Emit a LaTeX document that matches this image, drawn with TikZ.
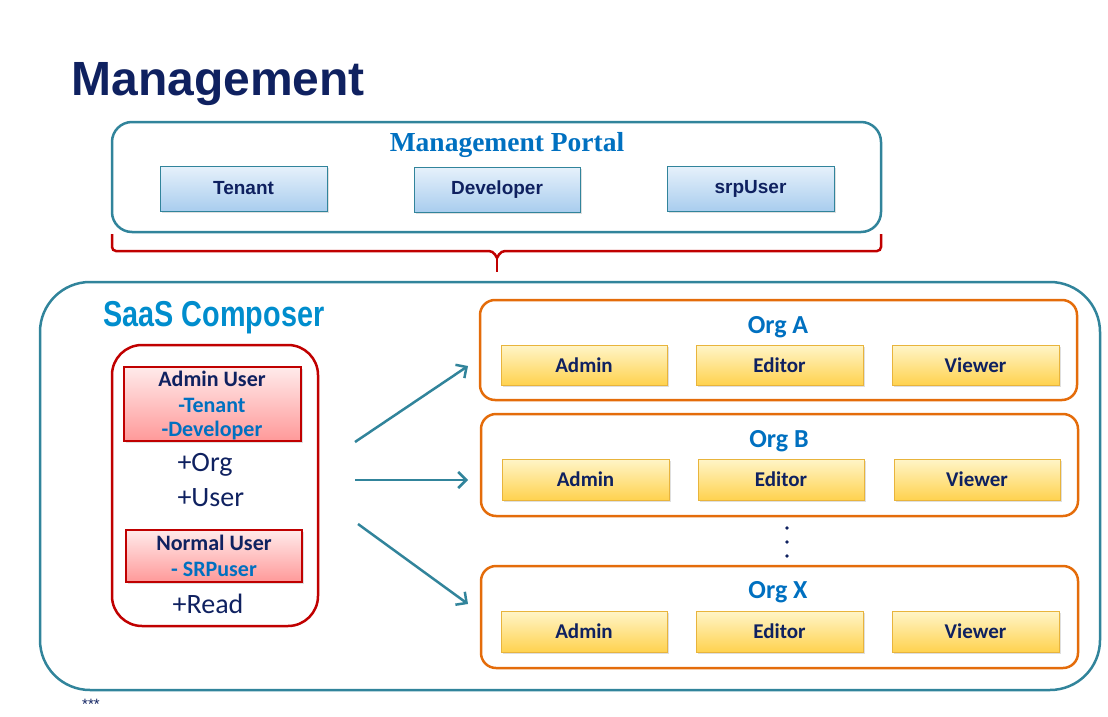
\documentclass[tikz,border=0pt]{standalone}
\usepackage{fontspec}
\setmainfont{Carlito}
\newfontfamily\arialf{Liberation Sans}
\newfontfamily\seriff{Liberation Serif}
\usetikzlibrary{shadows,arrows.meta}
\definecolor{navy}{HTML}{0F2160}
\definecolor{teal}{HTML}{31849B}
\definecolor{dred}{HTML}{C00000}
\definecolor{lblue}{HTML}{0070C0}
\definecolor{orng}{HTML}{E46C0A}
\definecolor{btop}{HTML}{E6F1FB}
\definecolor{bbot}{HTML}{A9CDEE}
\definecolor{ytop}{HTML}{FFF5C8}
\definecolor{ybot}{HTML}{FFD24F}
\definecolor{yedge}{HTML}{E8B43C}
\tikzset{
 bluebox/.style={draw=teal,thick,top color=btop,bottom color=bbot,drop shadow={opacity=0.25,shadow xshift=1.5pt,shadow yshift=-1.5pt},font=\arialf\bfseries\fontsize{19}{22}\selectfont,text=navy},
 yelbox/.style={draw=yedge,thick,top color=ytop,bottom color=ybot,drop shadow={opacity=0.25,shadow xshift=1.5pt,shadow yshift=-1.5pt},font=\bfseries\fontsize{21}{24}\selectfont,text=navy},
 pinkbox/.style={draw=dred,line width=1.5pt,top color=red!8!white,bottom color=red!40!white,drop shadow={opacity=0.25,shadow xshift=1.5pt,shadow yshift=-1.5pt}},
 orgbox/.style={draw=orng,line width=2.5pt,rounded corners=15pt},
 orgtitle/.style={font=\bfseries\fontsize{26}{28}\selectfont,text=lblue},
 ptxt/.style={font=\bfseries\fontsize{22}{24}\selectfont},
 arr/.style={draw=teal,line width=2.5pt,-{Straight Barb[length=8pt]}},
 plus/.style={font=\fontsize{28}{30}\selectfont,text=navy},
}
\begin{document}
\begin{tikzpicture}[x=1pt,y=-1pt]
\useasboundingbox (0,0) rectangle (1108,717);
\node[font=\arialf\bfseries\fontsize{48}{52}\selectfont,text=navy,anchor=west] (title) at (68,84) {Management};
\draw[teal,line width=2.5pt,rounded corners=20pt] (112,122) rectangle (881,232);
\node[font=\seriff\bfseries\fontsize{27.5}{30}\selectfont,text=lblue] (portal) at (507,145) {Management Portal};
\node[bluebox,minimum width=167pt,minimum height=45pt] (tenant) at (243.5,188.5) {Tenant};
\node[bluebox,minimum width=166pt,minimum height=45pt] (dev) at (497,189.5) {Developer};
\node[bluebox,minimum width=167pt,minimum height=45pt] (srp) at (750.5,188.5) {srpUser};
\draw[dred,line width=2.5pt,rounded corners=4pt] (112,234) -- (112,251) -- (493,251) -- (497,258);
\draw[dred,line width=2.5pt,rounded corners=4pt] (881,234) -- (881,251) -- (501,251) -- (497,258);
\draw[dred,line width=2.5pt] (497,255) -- (497,272);
\draw[teal,line width=2.5pt,rounded corners=50pt] (40,282) rectangle (1100,690);
\node[font=\arialf\bfseries\fontsize{36}{38}\selectfont,text=lblue!80!cyan,xscale=0.8] (saas) at (214,318) {SaaS Composer};
\draw[dred,line width=2.5pt,rounded corners=30pt] (112,345) rectangle (318,626);
\node[pinkbox,minimum width=177pt,minimum height=74pt] (admin) at (212.5,404) {};
\node[ptxt,text=navy] at (212,379) {Admin User};
\node[ptxt,text=lblue] at (212,405) {-Tenant};
\node[ptxt,text=lblue] at (212,431) {-Developer};
\node[plus,anchor=west] (porg) at (174,465) {+Org};
\node[plus,anchor=west] (puser) at (174,498) {+User};
\node[pinkbox,minimum width=176pt,minimum height=52pt] (normal) at (214,556) {};
\node[ptxt,text=navy] at (214,543) {Normal User};
\node[ptxt,text=lblue] at (214,569) {- SRPuser};
\node[plus] (pread) at (208,604) {+Read};
\coordinate (a1) at (355,442); \coordinate (a2) at (355,480); \coordinate (a3) at (358,524);
\draw[orgbox] (480,300) rectangle (1077,400);
\node[orgtitle] (orga) at (778,327) {Org A};
\node[yelbox,minimum width=166pt,minimum height=40pt] (aa) at (584,365) {Admin};
\node[yelbox,minimum width=167pt,minimum height=40pt] (ae) at (779.5,365) {Editor};
\node[yelbox,minimum width=167pt,minimum height=40pt] (av) at (975.5,365) {Viewer};
\draw[orgbox] (481,414) rectangle (1078,516);
\node[orgtitle] (orgb) at (779,441) {Org B};
\node[yelbox,minimum width=167pt,minimum height=41pt] (ba) at (585.5,479.5) {Admin};
\node[yelbox,minimum width=166pt,minimum height=41pt] (be) at (781,479.5) {Editor};
\node[yelbox,minimum width=166pt,minimum height=41pt] (bv) at (977,479.5) {Viewer};
\draw[orgbox] (481,566) rectangle (1078,668);
\node[orgtitle] (orgx) at (778,592) {Org X};
\node[yelbox,minimum width=166pt,minimum height=41pt] (xa) at (584,631.5) {Admin};
\node[yelbox,minimum width=167pt,minimum height=41pt] (xe) at (779.5,631.5) {Editor};
\node[yelbox,minimum width=167pt,minimum height=41pt] (xv) at (975.5,631.5) {Viewer};
\foreach \yy in {528,542,556} \fill[navy] (787,\yy) circle (1.8pt);
\coordinate (t1) at (468,366); \coordinate (t2) at (468,480); \coordinate (t3) at (468,604);
\draw[arr] (a1) -- (t1);
\draw[arr] (a2) -- (t2);
\draw[arr] (a3) -- (t3);
\node[font=\arialf\fontsize{15}{15}\selectfont,text=navy] (stars) at (91,704) {***};
\end{tikzpicture}
\end{document}
